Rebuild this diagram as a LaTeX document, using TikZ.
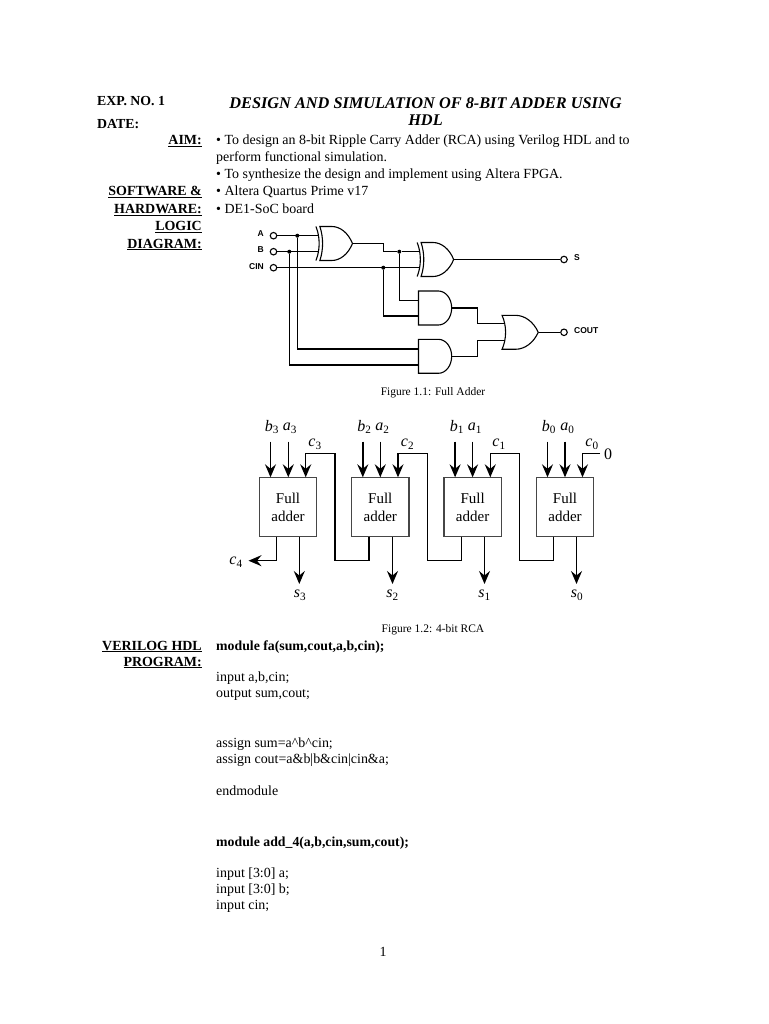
\documentclass[tikz,border=0pt]{standalone}
\usepackage{fontspec}
\setmainfont{Liberation Serif}
\newfontfamily\portfont{Liberation Sans}
\usepackage{tikz}
\usetikzlibrary{arrows.meta,shapes.gates.logic.US}
\definecolor{boxline}{RGB}{70,70,70}
\tikzset{
  bodyline/.style={anchor=base west,inner sep=0pt,font=\fontsize{13.95}{15}\selectfont},
  boldline/.style={bodyline,font=\fontsize{13.8}{15}\selectfont\bfseries},
  sidelabel/.style={anchor=base east,inner sep=0pt,font=\fontsize{13.95}{15}\selectfont\bfseries},
  titleline/.style={anchor=base,inner sep=0pt,font=\fontsize{16.3}{18}\selectfont\bfseries\itshape},
  captionline/.style={anchor=base,inner sep=0pt,font=\fontsize{11.5}{13}\selectfont},
  gatebody/.style={draw,line width=1.1pt,logic gate inputs=nn,logic gate input sep=11.33pt,xscale=.78,transform shape},
  xorbody/.style={gatebody,xscale=.9},
  port/.style={circle,draw,line width=1.1pt,inner sep=0pt,minimum size=6.5pt,fill=white},
  portlabel/.style={inner sep=0pt,font=\fontsize{8.5}{10}\selectfont\portfont\bfseries},
  joint/.style={circle,fill,inner sep=0pt,minimum size=4pt},
  wire/.style={line width=1.2pt},
  adderbox/.style={draw=boxline,line width=1.4pt,minimum width=57.5pt,minimum height=59.5pt,inner sep=0pt,align=center,font=\fontsize{15}{18}\selectfont},
  arrowwire/.style={line width=1.5pt,-{Stealth[length=13pt,width=11pt,inset=4.5pt]}},
  signal/.style={inner sep=0pt,font=\fontsize{16}{18}\selectfont}
}
\newcommand{\sig}[2]{\textit{#1}\textsubscript{#2}}
\begin{document}
\begin{tikzpicture}[x=1pt,y=-1pt]
\useasboundingbox (0,0) rectangle (768,1024);
\fill[white] (0,0) rectangle (768,1024);

% page header
\node [boldline] (expno) at (97,106) {EXP. NO. 1};
\node [boldline] (date) at (97,129) {DATE:};
\node [titleline] (titleone) at (425.5,109) {DESIGN AND SIMULATION OF 8-BIT ADDER USING};
\node [titleline] (titletwo) at (425.5,126) {HDL};

% left labels
\node [sidelabel] (aim) at (202,145) {\underline{AIM:}};
\node [sidelabel] (software) at (202,196) {\underline{SOFTWARE \&}};
\node [sidelabel] (hardware) at (202,214) {\underline{HARDWARE:}};
\node [sidelabel] (logic) at (202,231) {\underline{LOGIC}};
\node [sidelabel] (diagram) at (202,248) {\underline{DIAGRAM:}};

% aim and tools
\node [bodyline] (aimone) at (216,145) {• To design an 8-bit Ripple Carry Adder (RCA) using Verilog HDL and to};
\node [bodyline] (aimtwo) at (216,162) {perform functional simulation.};
\node [bodyline] (aimthree) at (216,179) {• To synthesize the design and implement using Altera FPGA.};
\node [bodyline] (toolone) at (216,196) {• Altera Quartus Prime v17};
\node [bodyline] (tooltwo) at (216,214) {• DE1-SoC board};

% full adder gates
\node [xor gate US,xorbody] (xorone) at (333.8,243.5) {};
\node [xor gate US,xorbody] (xortwo) at (435,259.5) {};
\node [and gate US,gatebody] (andone) at (434,308) {};
\node [and gate US,gatebody] (andtwo) at (434,356.3) {};
\node [or gate US,gatebody] (orgate) at (517.5,332.3) {};

% ports
\node [port] (a) at (273.5,235.7) {};
\node [port] (b) at (273.5,251.7) {};
\node [port] (cin) at (273.5,267.7) {};
\node [port] (s) at (564,259.5) {};
\node [port] (cout) at (564,332.3) {};
\node [portlabel,anchor=east] (alabel) at (264,234) {A};
\node [portlabel,anchor=east] (blabel) at (264,250) {B};
\node [portlabel,anchor=east] (cinlabel) at (264,267) {CIN};
\node [portlabel,anchor=west] (slabel) at (574,258) {S};
\node [portlabel,anchor=west] (coutlabel) at (574,331) {COUT};

% joints
\node [joint] (ja) at (297.3,235.7) {};
\node [joint] (jb) at (289.3,251.7) {};
\node [joint] (jc) at (383.3,267.7) {};
\node [joint] (jx) at (399.3,251.7) {};
\coordinate (jogx) at (383.3,251.7);
\coordinate (jogone) at (477.3,323.7);
\coordinate (jogtwo) at (477.3,340.3);
\coordinate (levelone) at (300,300.3);
\coordinate (leveltwo) at (300,316);
\coordinate (levelthree) at (300,349);
\coordinate (levelfour) at (300,365);

% wires
\draw [wire] (a) -- (a -| xorone.input 1);
\draw [wire] (b) -- (b -| xorone.input 2);
\draw [wire] (cin) -- (cin -| xortwo.input 2);
\draw [wire] (xorone.output) -| (jogx) -- (jx) -- (jx -| xortwo.input 1);
\draw [wire] (xortwo.output) -- (s);
\draw [wire] (jx) |- (levelone -| andone.input 1);
\draw [wire] (jc) |- (leveltwo -| andone.input 2);
\draw [wire] (ja) |- (levelthree -| andtwo.input 1);
\draw [wire] (jb) |- (levelfour -| andtwo.input 2);
\draw [wire] (andone.output) -| (jogone) -- (jogone -| orgate.input 1);
\draw [wire] (andtwo.output) -| (jogtwo) -- (jogtwo -| orgate.input 2);
\draw [wire] (orgate.output) -- (cout);

\node [captionline] (figone) at (433,395) {Figure 1.1: Full Adder};

% ripple carry adder
\node [adderbox] (fathree) at (288,507) {Full\\adder};
\node [adderbox] (fatwo) at (380.3,507) {Full\\adder};
\node [adderbox] (faone) at (472.6,507) {Full\\adder};
\node [adderbox] (fazero) at (565,507) {Full\\adder};

\node [signal] (bthree) at (272,427) {\sig{b}{3}};
\node [signal] (athree) at (290,428) {\sig{a}{3}};
\node [signal] (btwo) at (364.5,427) {\sig{b}{2}};
\node [signal] (atwo) at (382.5,428) {\sig{a}{2}};
\node [signal] (bone) at (457,427) {\sig{b}{1}};
\node [signal] (aone) at (475,428) {\sig{a}{1}};
\node [signal] (bzero) at (549,427) {\sig{b}{0}};
\node [signal] (azero) at (567.3,428) {\sig{a}{0}};
\node [signal] (cthree) at (315,444) {\sig{c}{3}};
\node [signal] (ctwo) at (407.5,444) {\sig{c}{2}};
\node [signal] (cone) at (499,444) {\sig{c}{1}};
\node [signal] (czero) at (592,444) {\sig{c}{0}};
\node [signal] (zero) at (608,454) {0};
\node [signal] (cfour) at (236,562) {\sig{c}{4}};
\node [signal] (sthree) at (300,595) {\sig{s}{3}};
\node [signal] (stwo) at (392.5,595) {\sig{s}{2}};
\node [signal] (sone) at (484.5,595) {\sig{s}{1}};
\node [signal] (szero) at (577,595) {\sig{s}{0}};

\coordinate (cfourend) at (248.5,560.7);
\coordinate (czerostart) at (600,453.3);

\draw [arrowwire] (270.5,441.7) -- (270.5,477.3);
\draw [arrowwire] (288.3,441.7) -- (288.3,477.3);
\draw [arrowwire] (362.8,441.7) -- (362.8,477.3);
\draw [arrowwire] (380.3,441.7) -- (380.3,477.3);
\draw [arrowwire] (455.1,441.7) -- (455.1,477.3);
\draw [arrowwire] (472.6,441.7) -- (472.6,477.3);
\draw [arrowwire] (547.5,441.7) -- (547.5,477.3);
\draw [arrowwire] (565,441.7) -- (565,477.3);

% carry chain
\draw [arrowwire] (369,536.7) -- (369,560.7) -| (335,453.3) -| (305.7,477.3);
\draw [arrowwire] (461.3,536.7) -- (461.3,560.7) -| (427.3,453.3) -| (398,477.3);
\draw [arrowwire] (553.7,536.7) -- (553.7,560.7) -| (519.6,453.3) -| (490.3,477.3);
\draw [arrowwire] (czerostart) -| (582.5,477.3);
\draw [arrowwire] (276.7,536.7) |- (cfourend);

% sums
\draw [arrowwire] (299.3,536.7) -- (299.3,584);
\draw [arrowwire] (392.5,536.7) -- (392.5,584);
\draw [arrowwire] (484.5,536.7) -- (484.5,584);
\draw [arrowwire] (576.5,536.7) -- (576.5,584);

\node [captionline] (figtwo) at (433,632) {Figure 1.2: 4-bit RCA};

% verilog listing
\node [sidelabel] (verilog) at (202,650) {\underline{VERILOG HDL}};
\node [sidelabel] (program) at (202,666) {\underline{PROGRAM:}};
\node [boldline] (codeone) at (216,650) {module fa(sum,cout,a,b,cin);};
\node [bodyline] (codetwo) at (216,681) {input a,b,cin;};
\node [bodyline] (codethree) at (216,697) {output sum,cout;};
\node [bodyline] (codefour) at (216,747.5) {assign sum=a\^{}b\^{}cin;};
\node [bodyline] (codefive) at (216,763.5) {assign cout=a\&b|b\&cin|cin\&a;};
\node [bodyline] (codesix) at (216,795) {endmodule};
\node [boldline] (codeseven) at (216,846) {module add\_4(a,b,cin,sum,cout);};
\node [bodyline] (codeeight) at (216,877.5) {input [3:0] a;};
\node [bodyline] (codenine) at (216,893.5) {input [3:0] b;};
\node [bodyline] (codeten) at (216,909.5) {input cin;};

\node [bodyline,anchor=base] (pageno) at (383,956.5) {1};
\end{tikzpicture}
\end{document}
